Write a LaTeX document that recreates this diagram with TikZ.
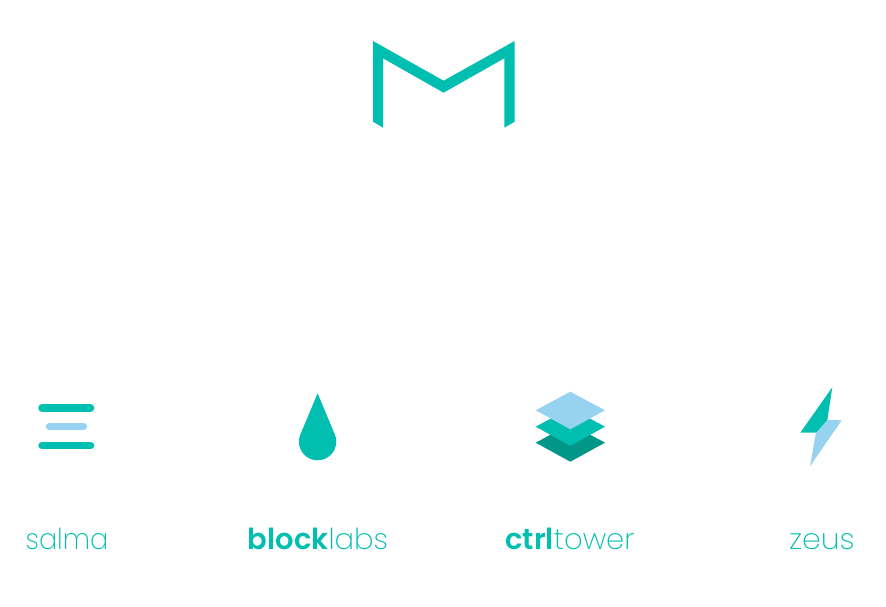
\documentclass[tikz,border=0pt]{standalone}
\usepackage{fontspec}
\newfontfamily\lightface{Poppins ExtraLight}
\newfontfamily\boldface{Poppins SemiBold}
\definecolor{teal1}{HTML}{00BFB0}
\definecolor{sky1}{HTML}{97D3F1}
\definecolor{deep1}{HTML}{009688}
\tikzset{
  brand/.style={anchor=base,inner sep=0pt,outer sep=0pt,text=teal1,font=\fontsize{29}{32}\selectfont\lightface},
  barline/.style={line width=7.4pt,line cap=round},
}
\newcommand{\strongpart}[1]{{\boldface #1}}
\begin{document}
\begin{tikzpicture}[x=1pt,y=-1pt]
\useasboundingbox (0,0) rectangle (886,607);
\fill[white] (0,0) rectangle (886,607);
% M logo
\fill[teal1] (373,41) -- (443.6,80.7) -- (514.7,41) -- (514.7,121.7) -- (504.3,127.7) -- (504.3,58.3) -- (443.6,92.7) -- (383,58.3) -- (383,127.7) -- (373,121.7) -- cycle;
% salma icon
\draw[barline,teal1] (42,408) -- (90.6,408);
\draw[barline,sky1] (49.4,426.6) -- (83.4,426.6);
\draw[barline,teal1] (42,445.6) -- (90.6,445.6);
% drop
\fill[teal1] (317.6,393.3) -- (334.8,434.4) .. controls (335.77,436.7) and (336.3,439.11) .. (336.3,441.6)
  .. controls (336.3,451.93) and (327.93,460.3) .. (317.6,460.3)
  .. controls (307.27,460.3) and (298.9,451.93) .. (298.9,441.6)
  .. controls (298.9,439.11) and (299.43,436.7) .. (300.4,434.4) -- cycle;
% layers
\fill[deep1] (535.7,442.7) -- (570.3,424) -- (605,442.7) -- (570.3,461.7) -- cycle;
\fill[teal1] (535.7,426.7) -- (570.3,408) -- (605,426.7) -- (570.3,445.7) -- cycle;
\fill[sky1] (535.7,410.3) -- (570.3,391.7) -- (605,410.3) -- (570.3,429.3) -- cycle;
% bolt
\fill[sky1] (827.3,420) -- (841.7,420.3) -- (810,466.3) -- (816,432.5) -- cycle;
\fill[teal1] (832.3,387.3) -- (827.3,420) -- (816,432.7) -- (800.3,432.7) -- cycle;
% labels
\node[brand,xscale=.93,transform shape] (salma) at (67,549) {salma};
\node[brand] (blocklabs) at (318,549) {\strongpart{block}labs};
\node[brand] (ctrltower) at (570,549) {\strongpart{ctrl}tower};
\node[brand,xscale=1.04,transform shape] (zeus) at (822,549) {zeus};
\end{tikzpicture}
\end{document}
